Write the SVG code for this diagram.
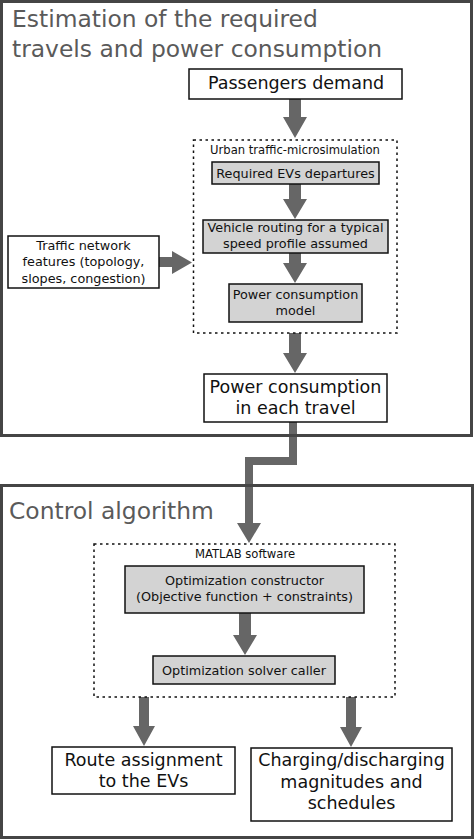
<svg xmlns="http://www.w3.org/2000/svg" width="474" height="840" viewBox="0 0 474 840">
<style>
text{font-family:"DejaVu Sans",Verdana,sans-serif;fill:#111;text-anchor:middle}
.title{font-size:23.4px;fill:#5a5a5a;text-anchor:start}
.big{font-size:17.5px}
.mid{font-size:12.8px}
.small{font-size:11.6px}
.box{fill:#fff;stroke:#111;stroke-width:1.5}
.gbox{fill:#d3d3d3;stroke:#111;stroke-width:1.5}
.dot{fill:none;stroke:#111;stroke-width:1.5;stroke-dasharray:2.5 3.5}
.frame{fill:none;stroke:#454545;stroke-width:3}
.arr{fill:#666}
</style>
<rect width="474" height="840" fill="#fff"/>
<g id="connectors">
<path class="arr" d="M289,99 H301 V117 H307 L295,138 L283,117 H289 Z"/>
<path class="arr" d="M289,184 H301 V199 H307 L295,219 L283,199 H289 Z"/>
<path class="arr" d="M289,253 H301 V263 H307 L295,283 L283,263 H289 Z"/>
<path class="arr" d="M289,333 H301 V353 H307 L295,373 L283,353 H289 Z"/>
<path class="arr" d="M159,257 V267 H172 V274 L192,262.5 L172,251 V257 Z"/>
<path class="arr" d="M289,422 H297 V465 H253 V523 H261 L249,543 L237,523 H245 V457 H289 Z"/>
<path class="arr" d="M239,613 H251 V635 H257 L245,655 L233,635 H239 Z"/>
<path class="arr" d="M139,697 H149 V726 H155 L144,746 L133,726 H139 Z"/>
<path class="arr" d="M346,697 H356 V727 H362 L351,747 L340,727 H346 Z"/>
</g>
<g id="section-estimation">
<rect class="frame" x="1.5" y="1.5" width="470" height="434"/>
<text class="title" x="12" y="27">Estimation of the required</text>
<text class="title" x="12" y="57">travels and power consumption</text>
</g>
<g id="section-control">
<rect class="frame" x="1.5" y="485.5" width="471" height="352"/>
<text class="title" x="9" y="519">Control algorithm</text>
</g>
<g id="passengers-demand">
<rect class="box" x="189" y="69" width="213" height="30"/>
<text class="big" x="296" y="89">Passengers demand</text>
</g>
<g id="urban-microsimulation">
<rect class="dot" x="193.5" y="140" width="203.5" height="193"/>
<text class="small" x="295" y="154">Urban traffic-microsimulation</text>
</g>
<g id="required-departures">
<rect class="gbox" x="212" y="162" width="167" height="22"/>
<text class="mid" x="295.5" y="178">Required EVs departures</text>
</g>
<g id="vehicle-routing">
<rect class="gbox" x="203" y="220" width="185" height="33"/>
<text class="mid" x="295.5" y="232">Vehicle routing for a typical</text>
<text class="mid" x="295.5" y="248">speed profile assumed</text>
</g>
<g id="power-model">
<rect class="gbox" x="229" y="284" width="133" height="38"/>
<text class="mid" x="295.5" y="298.5">Power consumption</text>
<text class="mid" x="295.5" y="314.5">model</text>
</g>
<g id="traffic-network">
<rect class="box" x="8" y="236" width="151" height="52"/>
<text class="mid" x="83.5" y="249.5">Traffic network</text>
<text class="mid" x="83.5" y="266">features (topology,</text>
<text class="mid" x="83.5" y="282.5">slopes, congestion)</text>
</g>
<g id="power-each-travel">
<rect class="box" x="204" y="374" width="183" height="48"/>
<text class="big" x="295.5" y="393">Power consumption</text>
<text class="big" x="295.5" y="414">in each travel</text>
</g>
<g id="matlab-software">
<rect class="dot" x="94" y="544" width="301" height="153"/>
<text class="small" x="245" y="558">MATLAB software</text>
</g>
<g id="optimization-constructor">
<rect class="gbox" x="125" y="566" width="239" height="47"/>
<text class="mid" x="244.5" y="584.5">Optimization constructor</text>
<text class="mid" x="244.5" y="600.5">(Objective function + constraints)</text>
</g>
<g id="solver-caller">
<rect class="gbox" x="153" y="656" width="182" height="28"/>
<text class="mid" x="244" y="674.5">Optimization solver caller</text>
</g>
<g id="route-assignment">
<rect class="box" x="52" y="747" width="183" height="47"/>
<text class="big" x="143.5" y="766">Route assignment</text>
<text class="big" x="143.5" y="787">to the EVs</text>
</g>
<g id="charging-schedules">
<rect class="box" x="251" y="748" width="201" height="73"/>
<text class="big" x="351.5" y="766">Charging/discharging</text>
<text class="big" x="351.5" y="788">magnitudes and</text>
<text class="big" x="351.5" y="809">schedules</text>
</g>
</svg>
